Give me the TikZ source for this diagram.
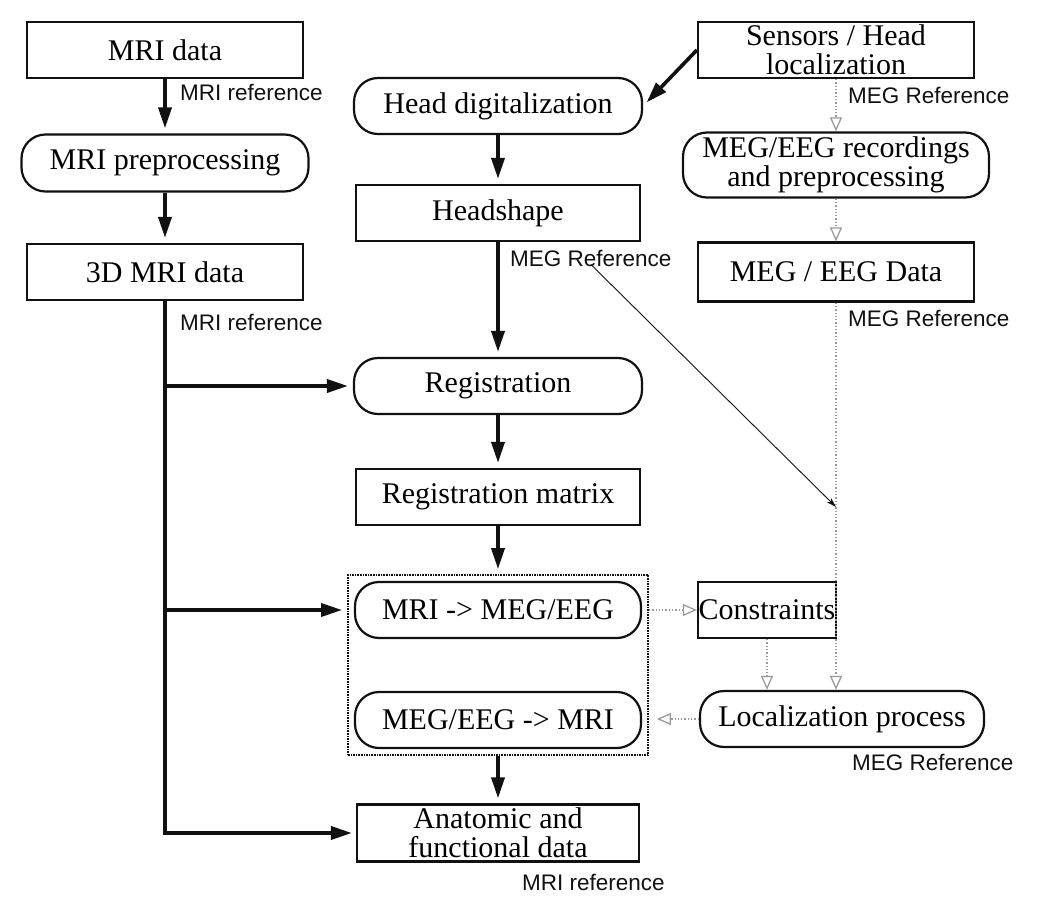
\documentclass[tikz,border=0pt]{standalone}
\usepackage{fontspec}
\setmainfont{Liberation Serif}
\setsansfont{Liberation Sans}
\usetikzlibrary{arrows.meta, positioning, calc, fit}

\begin{document}
\begin{tikzpicture}[
    x=1pt, y=-1pt,
    every node/.style={font=\fontsize{30}{27}\selectfont, align=center, inner sep=0pt},
    twoline/.style={font=\fontsize{30}{29}\selectfont},
    box/.style={draw=ink, line width=2.2pt, minimum height=56pt},
    pill/.style={box, rounded corners=24pt},
    flow/.style={draw=ink, line width=3.6pt, -{Triangle[length=21pt,width=13pt]}, shorten >=5pt},
    weak/.style={draw=faint, line width=1.3pt, dotted, -{Triangle[open,length=14pt,width=12pt]}},
    refnote/.style={font=\sffamily\fontsize{22.5}{24}\selectfont, text=ink, anchor=west},
]

\definecolor{ink}{HTML}{111111}    % boxes, main flow
\definecolor{faint}{HTML}{9A9A9A}  % the MEG side, dotted

\def\colL{165}   % MRI column
\def\colM{498}   % registration column
\def\colR{836}   % MEG / EEG column

% ================================================================
% Page 1042 x 902, y grows downwards (1pt = 1px of the scan).
%
%   left   x = 165   MRI data -> preprocessing -> 3D MRI data, then a
%                    trunk that feeds the middle column three times
%   middle x = 498   head digitalization ... anatomic and functional data
%   right  x = 836   sensors -> recordings -> MEG/EEG data (dotted)
%
% The two conversions sit in one dotted frame (convbox); the dotted
% links on the right lead into and out of that frame.
% ================================================================

\useasboundingbox (0,0) rectangle (1042,902);

% ---------------------------------------------------------------- MRI column
\node[box,  minimum width=276pt] (mridata) at (\colL,50)  {MRI data};
\node[pill, minimum width=287pt, minimum height=57pt] (mriprep) at (\colL,163) {MRI preprocessing};
\node[box,  minimum width=276pt] (mri3d)   at (\colL,272) {3D MRI data};

% ---------------------------------------------------------------- middle column
\node[pill, minimum width=288pt] (headdig)   at (\colM,106) {Head digitalization};
\node[box,  minimum width=284pt] (headshape) at (\colM,213) {Headshape};
\node[pill, minimum width=288pt] (reg)       at (\colM,386) {Registration};
\node[box,  minimum width=284pt] (regmat)    at (\colM,497) {Registration matrix};
\node[pill, minimum width=286pt] (mri2meg)   at (\colM,610) {MRI -> MEG/EEG};
\node[pill, minimum width=286pt] (meg2mri)   at (\colM,720) {MEG/EEG -> MRI};
\node[box, twoline, minimum width=282pt, minimum height=57pt] (anatfunc) at (\colM,833)
    {Anatomic and\\functional data};

\node[draw=ink, densely dotted, line width=1.6pt, inner sep=6pt,
      fit=(mri2meg)(meg2mri)] (convbox) {};

% ---------------------------------------------------------------- MEG column
\node[box, twoline, minimum width=276pt] (sensors) at (\colR,50) {Sensors / Head\\localization};
\node[pill, twoline, minimum width=306pt, minimum height=65pt] (megrec) at (\colR,165)
    {MEG/EEG recordings\\and preprocessing};
\node[box,  minimum width=276pt, minimum height=59pt] (megdata) at (\colR,272) {MEG / EEG Data};
\node[box,  minimum width=138pt] (constr)  at (767,610) {Constraints};
\node[pill, minimum width=284pt] (localiz) at (842,719) {Localization process};

% ---------------------------------------------------------------- reference frames
\node[refnote] (mriref1) at (180,92)  {MRI reference};
\node[refnote] (mriref2) at (180,322) {MRI reference};
\node[refnote] (mriref3) at (522,882) {MRI reference};
\node[refnote] (megref1) at (848,95)  {MEG Reference};
\node[refnote] (megref2) at (510,258) {MEG Reference};
\node[refnote] (megref3) at (848,318) {MEG Reference};
\node[refnote] (megref4) at (852,762) {MEG Reference};

% ---------------------------------------------------------------- main flow
\draw[flow] (mridata) -- (mriprep);
\draw[flow] (mriprep) -- (mri3d);
\draw[flow, shorten >=4pt] (mri3d.south) |- (anatfunc.west);
\draw[flow] (mri3d.south |- reg.west) -- (reg.west);
\draw[flow] (mri3d.south |- mri2meg.west) -- (convbox.west |- mri2meg.west);

\draw[flow] (sensors.west) -- (headdig.east);
\draw[flow] (headdig) -- (headshape);
\draw[flow] (headshape) -- (reg);
\draw[flow] (reg) -- (regmat);
\draw[flow] (regmat.south) -- (regmat.south |- convbox.north);
\draw[flow] (convbox.south -| anatfunc.north) -- (anatfunc.north);

% ---------------------------------------------------------------- dotted MEG links
\draw[weak] (sensors) -- (megrec);
\draw[weak] (megrec) -- (megdata);
\draw[weak] (megdata.south) -- (megdata.south |- localiz.north);
\draw[weak] (convbox.east |- constr.west) -- (constr.west);
\draw[weak] (constr.south) -- (constr.south |- localiz.north);
\draw[weak, shorten >=8pt] (localiz.west) -- (convbox.east |- localiz.west);

% the headshape frame is handed over to the localization
\coordinate (tap) at (megdata.south |- 0,507);
\draw[ink, line width=0.9pt, -{Stealth[length=10pt,width=6pt]}]
    ([yshift=2pt]megref2.south) -- (tap);

\end{tikzpicture}
\end{document}
